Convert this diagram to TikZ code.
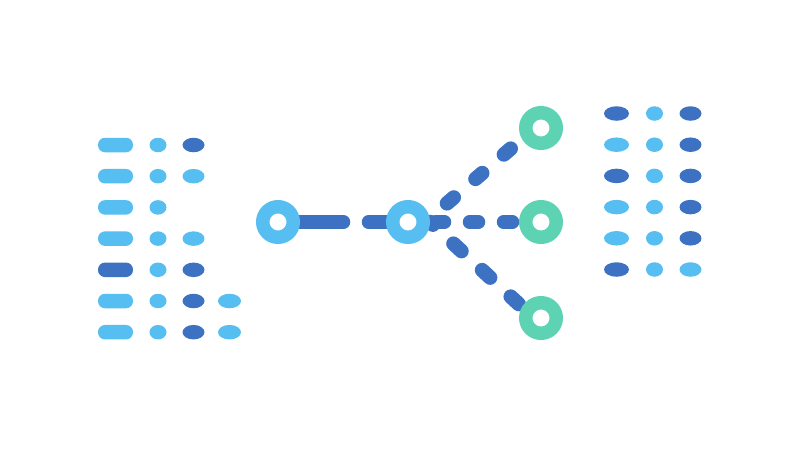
\documentclass[tikz,border=0pt]{standalone}
\usetikzlibrary{shapes.geometric,backgrounds}
\definecolor{lb}{HTML}{56BEF0}
\definecolor{db}{HTML}{3D72C3}
\definecolor{gn}{HTML}{5DD3B3}
\pgfdeclarelayer{bottom}
\pgfsetlayers{bottom,background,main}
\begin{document}
\begin{tikzpicture}[x=1pt,y=-1pt,
 pill/.style={rectangle,rounded corners=7pt,minimum width=35pt,minimum height=14.5pt,inner sep=0pt},
 dot/.style={ellipse,minimum width=#1,minimum height=14.5pt,inner sep=0pt},
 ring/.style={circle,draw=#1,fill=white,line width=13.5pt,minimum size=30.5pt,inner sep=0pt,outer sep=6.75pt},
 link/.style={draw=db,line width=13.5pt,line cap=round},
 dlink/.style={draw=db,line width=14.5pt,line cap=round}]
\begin{pgfonlayer}{bottom}
\useasboundingbox[fill=white] (0,0) rectangle (800,450);
\end{pgfonlayer}
% left grid
\foreach \r/\c in {0/lb,1/lb,2/lb,3/lb,4/db,5/lb,6/lb}
  \node[pill,fill=\c] (La\r) at (115.5,{145+31.2*\r}) {};
\foreach \r in {0,...,6}
  \node[dot=17pt,fill=lb] (Lb\r) at (158,{145+31.2*\r}) {};
\foreach \r/\c in {0/db,1/lb,3/lb,4/db,5/db,6/db}
  \node[dot=22pt,fill=\c] (Lc\r) at (193.5,{145+31.2*\r}) {};
\foreach \r/\c in {5/lb,6/lb}
  \node[dot=23pt,fill=\c] (Ld\r) at (229.5,{145+31.2*\r}) {};
% right grid
\foreach \r/\c in {0/db,1/lb,2/db,3/lb,4/lb,5/db}
  \node[dot=25pt,fill=\c] (Ra\r) at (616.5,{113.5+31.2*\r}) {};
\foreach \r in {0,...,5}
  \node[dot=17pt,fill=lb] (Rb\r) at (654.5,{113.5+31.2*\r}) {};
\foreach \r/\c in {0/db,1/db,2/db,3/db,4/db,5/lb}
  \node[dot=22pt,fill=\c] (Rc\r) at (690.5,{113.5+31.2*\r}) {};
% network
\node[ring=lb] (l) at (278,222) {};
\node[ring=lb] (m) at (408,222) {};
\node[ring=gn] (g1) at (541,128) {};
\node[ring=gn] (g2) at (541,222) {};
\node[ring=gn] (g3) at (541,318) {};
\begin{pgfonlayer}{background}
\draw[link,dash pattern=on 43.5pt off 25pt on 60pt] (l.east) -- (m.west);
\draw[link,dash pattern=on 9pt off 25pt,dash phase=28.5pt] (m.east) -- (g2.west);
\draw[dlink,dash pattern=on 9pt off 28.5pt,dash phase=14.7pt] (m.10) -- (g1.210);
\draw[dlink,dash pattern=on 11pt off 28pt,dash phase=7.1pt] (m.east) -- (g3.150);
\end{pgfonlayer}
\end{tikzpicture}
\end{document}
